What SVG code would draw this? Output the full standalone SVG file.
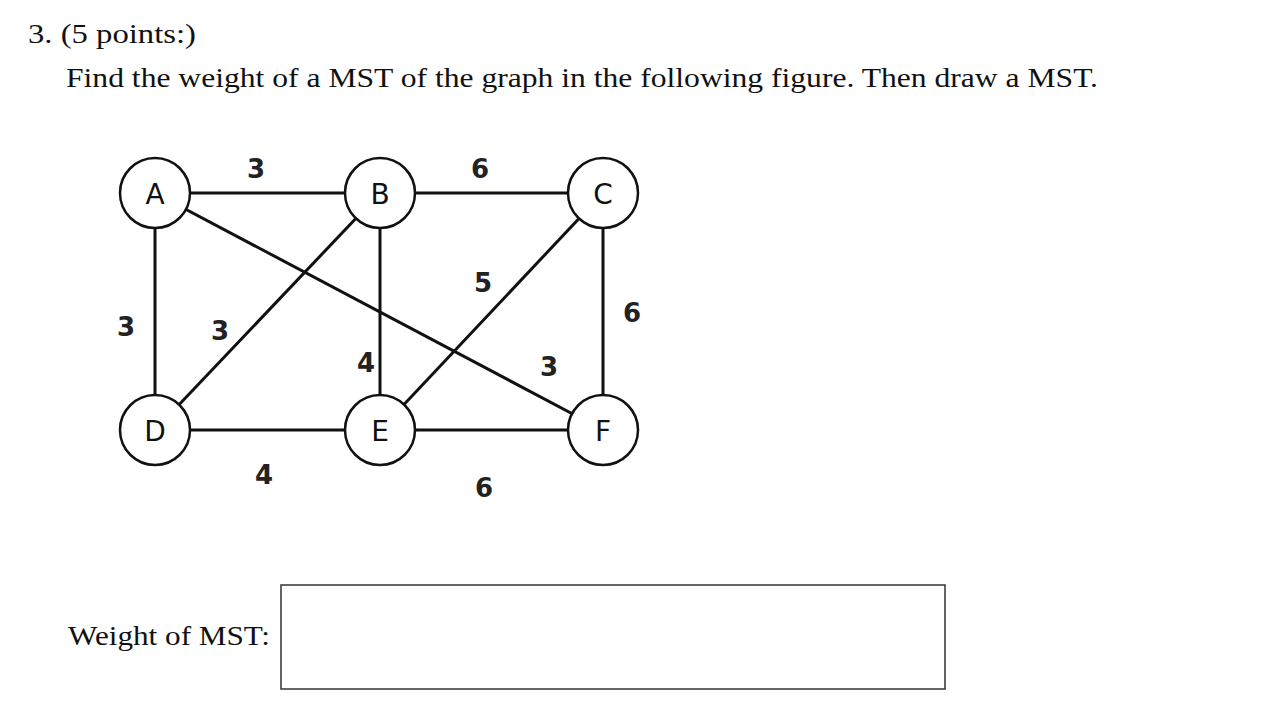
<svg xmlns="http://www.w3.org/2000/svg" width="1264" height="720" viewBox="0 0 1264 720">
<style>
.t{font-family:"Liberation Serif",serif;font-size:28px;fill:#111}
.n circle{fill:#fff;stroke:#111;stroke-width:2.5}
.n text{font-family:"DejaVu Sans",sans-serif;font-size:28px;fill:#111;text-anchor:middle}
.w{font-family:"DejaVu Sans",sans-serif;font-size:26px;font-weight:bold;fill:#222;text-anchor:middle}
#edges line{stroke:#111;stroke-width:3}
</style>
<rect width="1264" height="720" fill="#fff"/>
<text class="t" x="28" y="43" textLength="168" lengthAdjust="spacingAndGlyphs">3. (5 points:)</text>
<text class="t" x="66" y="87" textLength="1032" lengthAdjust="spacingAndGlyphs">Find the weight of a MST of the graph in the following figure. Then draw a MST.</text>
<g id="edges">
<line x1="155" y1="193" x2="380" y2="193"/>
<line x1="380" y1="193" x2="603" y2="193"/>
<line x1="155" y1="193" x2="155" y2="430"/>
<line x1="380" y1="193" x2="155" y2="430"/>
<line x1="380" y1="193" x2="380" y2="430"/>
<line x1="603" y1="193" x2="380" y2="430"/>
<line x1="155" y1="193" x2="603" y2="430"/>
<line x1="603" y1="193" x2="603" y2="430"/>
<line x1="155" y1="430" x2="380" y2="430"/>
<line x1="380" y1="430" x2="603" y2="430"/>
</g>
<g id="weights">
<text class="w" x="256" y="178">3</text>
<text class="w" x="480" y="178">6</text>
<text class="w" x="126" y="336">3</text>
<text class="w" x="220" y="340">3</text>
<text class="w" x="366" y="372">4</text>
<text class="w" x="483" y="292">5</text>
<text class="w" x="549" y="376">3</text>
<text class="w" x="632" y="322">6</text>
<text class="w" x="264" y="484">4</text>
<text class="w" x="484" y="497">6</text>
</g>
<g id="A" class="n"><circle cx="155" cy="193" r="35"/><text x="155" y="204">A</text></g>
<g id="B" class="n"><circle cx="380" cy="193" r="35"/><text x="380" y="204">B</text></g>
<g id="C" class="n"><circle cx="603" cy="193" r="35"/><text x="603" y="204">C</text></g>
<g id="D" class="n"><circle cx="155" cy="430" r="35"/><text x="155" y="441">D</text></g>
<g id="E" class="n"><circle cx="380" cy="430" r="35"/><text x="380" y="441">E</text></g>
<g id="F" class="n"><circle cx="603" cy="430" r="35"/><text x="603" y="441">F</text></g>
<text class="t" x="68" y="645" textLength="202" lengthAdjust="spacingAndGlyphs">Weight of MST:</text>
<rect x="281" y="585" width="664" height="104" fill="none" stroke="#333" stroke-width="1.5"/>
</svg>
